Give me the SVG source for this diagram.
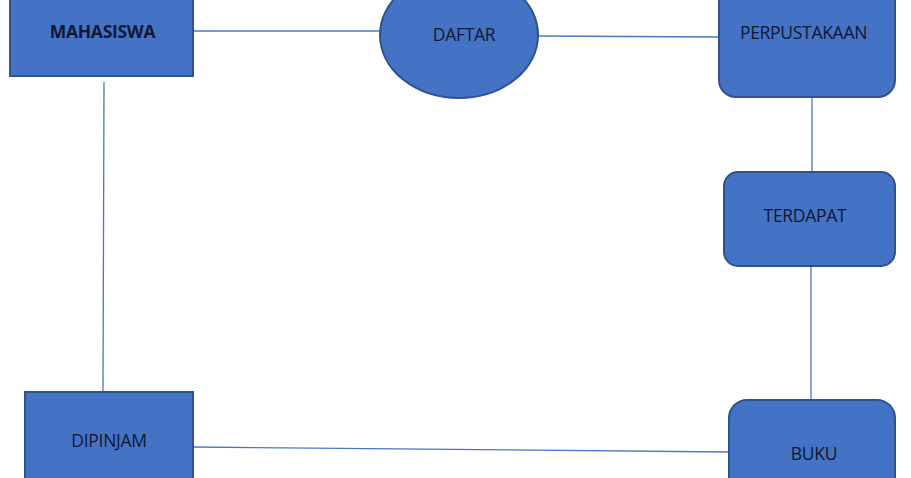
<svg xmlns="http://www.w3.org/2000/svg" width="911" height="478" viewBox="0 0 911 478">
<style>
.n{fill:#4472C4;stroke:#2F528F;stroke-width:2}
.t{font-family:"Open Sans","DejaVu Sans",sans-serif;font-size:17.5px;fill:#101833;text-anchor:middle;dominant-baseline:central;letter-spacing:-0.3px}
.c line{stroke:#4A76C6;stroke-width:1.3}
</style>
<rect width="911" height="478" fill="#fff"/>
<g class="c" id="connectors">
<line x1="193" y1="31" x2="381" y2="31"/>
<line x1="538" y1="36" x2="719" y2="37"/>
<line x1="812" y1="97" x2="812" y2="172"/>
<line x1="811" y1="266" x2="811" y2="400"/>
<line x1="193" y1="447" x2="729" y2="452"/>
<line x1="104" y1="82" x2="103" y2="392"/>
</g>
<g id="mahasiswa"><rect class="n" x="10" y="-10" width="183" height="86"/><text class="t" x="102.5" y="31" font-weight="bold" font-size="16.5">MAHASISWA</text></g>
<g id="daftar"><ellipse class="n" cx="459" cy="35" rx="79" ry="63"/><text class="t" x="464" y="34">DAFTAR</text></g>
<g id="perpustakaan"><rect class="n" x="719" y="-20" width="176" height="117" rx="17"/><text class="t" x="803.5" y="32">PERPUSTAKAAN</text></g>
<g id="terdapat"><rect class="n" x="724" y="172" width="171" height="94" rx="14"/><text class="t" x="805" y="215">TERDAPAT</text></g>
<g id="buku"><rect class="n" x="729" y="400" width="166" height="100" rx="18"/><text class="t" x="814" y="453">BUKU</text></g>
<g id="dipinjam"><rect class="n" x="25" y="392" width="168" height="100"/><text class="t" x="109" y="440">DIPINJAM</text></g>
</svg>
